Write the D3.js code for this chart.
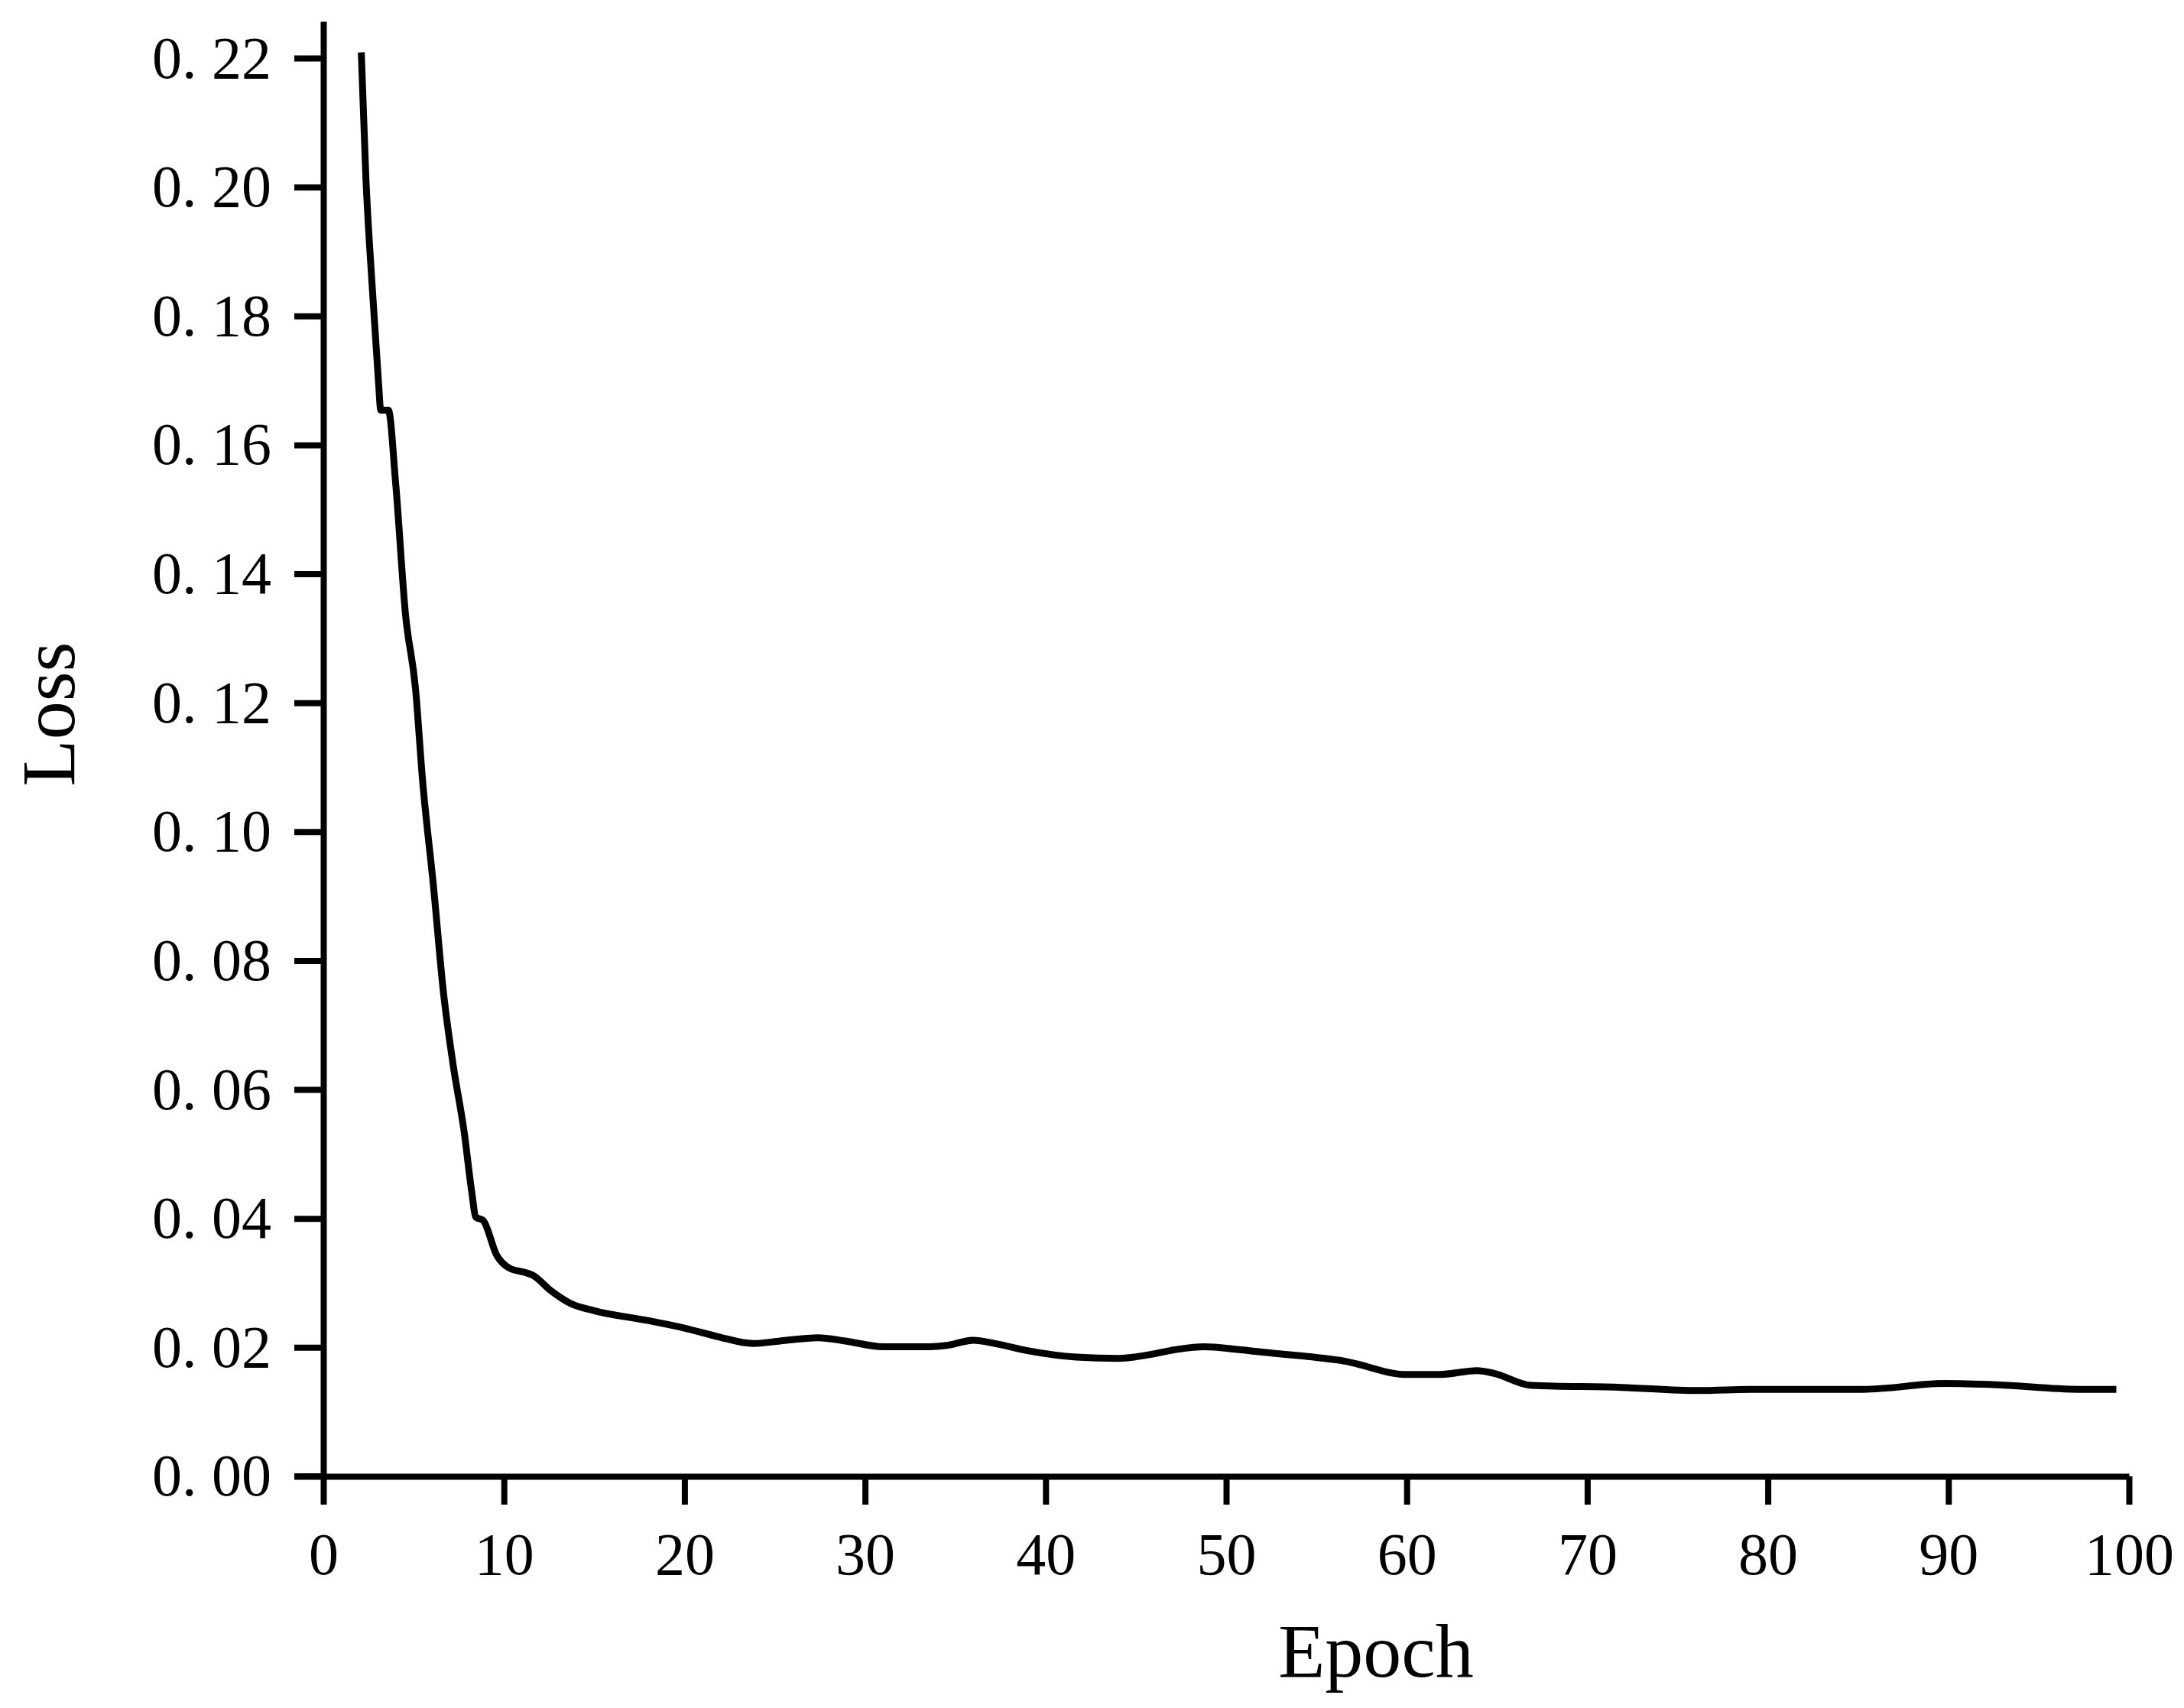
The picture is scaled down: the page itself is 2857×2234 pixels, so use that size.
<!DOCTYPE html>
<html>
<head>
<meta charset="utf-8">
<script src="https://cdn.jsdelivr.net/npm/d3@7"></script>
<style>
  body { margin: 0; background: #fff; }
  text { font-family: "Liberation Serif", "Times New Roman", serif; fill: #000; }
</style>
</head>
<body>
<svg id="chart"></svg>
<script>
// Data
var epochs = [2.1, 2.35, 2.7, 3.05, 3.18, 3.6, 4.0, 4.55, 5.1, 5.5, 6.1, 6.65, 7.2, 7.8, 8.2, 8.45, 8.85,
  9.6, 10.3, 11.2, 11.6, 12.6, 13.7, 15.0, 17.9, 20.0, 21.8, 23.8, 25.3, 27.4, 28.9, 31.0, 33.6, 34.5,
  36.0, 37.2, 39.0, 41.7, 44.0, 45.8, 47.3, 48.8, 50.6, 52.6, 54.1, 56.5, 60.0, 61.8, 63.9, 64.8, 66.9,
  71.9, 76.1, 79.3, 85.3, 89.8, 92.7, 97.2, 99.3];
var loss = [0.2209, 0.2018, 0.1848, 0.1699, 0.1654, 0.1654, 0.1542, 0.1337, 0.1223, 0.1078, 0.0915, 0.0751,
  0.0636, 0.0534, 0.0445, 0.0402, 0.0397, 0.0343, 0.0323, 0.0316, 0.0312, 0.0288, 0.0268, 0.0257, 0.0242,
  0.0230, 0.0217, 0.0206, 0.0210, 0.0215, 0.0210, 0.0201, 0.0201, 0.0203, 0.0211, 0.0206, 0.0195, 0.0185,
  0.0183, 0.0189, 0.0197, 0.0201, 0.0197, 0.0191, 0.0187, 0.0179, 0.0158, 0.0158, 0.0164, 0.0160, 0.0141,
  0.0138, 0.0133, 0.0135, 0.0135, 0.0144, 0.0142, 0.0135, 0.0135];
var xTicks = [0, 10, 20, 30, 40, 50, 60, 70, 80, 90, 100];
var yTicks = [0, 0.02, 0.04, 0.06, 0.08, 0.10, 0.12, 0.14, 0.16, 0.18, 0.20, 0.22];
var xTitle = "Epoch";
var yTitle = "Loss";

// SVG size params
var width = 2857;
var height = 2234;
var margin = {top: 28, right: 72, bottom: 303, left: 423};

var svg = d3.select("#chart")
    .attr("width", width)
    .attr("height", height);

svg.append("rect")
    .attr("width", width)
    .attr("height", height)
    .attr("fill", "#fff");

var innerW = width - margin.left - margin.right;
var innerH = height - margin.top - margin.bottom;

var g = svg.append("g")
    .attr("transform", "translate(" + margin.left + "," + margin.top + ")");

// Scales
var x = d3.scaleLinear().domain([0, 100]).range([0, innerW]);
var y = d3.scaleLinear().domain([0, 0.2257]).range([innerH, 0]);

// Axes
var fmt = d3.format(".2f");
var yAxis = d3.axisLeft(y)
    .tickValues(yTicks)
    .tickSize(38)
    .tickSizeOuter(0)
    .tickPadding(30)
    .tickFormat(function(d) { return fmt(d).replace(".", ". "); });

var xAxis = d3.axisBottom(x)
    .tickValues(xTicks)
    .tickSize(37)
    .tickSizeOuter(0)
    .tickPadding(36);

var gy = g.append("g").call(yAxis);
var gx = g.append("g")
    .attr("transform", "translate(0," + innerH + ")")
    .call(xAxis);

[gx, gy].forEach(function(a) {
  a.selectAll("path, line").attr("stroke", "#000").attr("stroke-width", 8);
  a.selectAll("text")
    .attr("font-size", 78)
    .attr("font-family", "Liberation Serif, Times New Roman, serif")
    .attr("fill", "#000");
});

// x axis line extends left under the y tick
gx.append("line")
    .attr("x1", -38)
    .attr("x2", 0)
    .attr("stroke", "#000")
    .attr("stroke-width", 8);

// Loss line
var line = d3.line()
    .x(function(d, i) { return x(epochs[i]); })
    .y(function(d) { return y(d); })
    .curve(d3.curveMonotoneX);

g.append("path")
    .datum(loss)
    .attr("fill", "none")
    .attr("stroke", "#000")
    .attr("stroke-width", 9)
    .attr("stroke-linejoin", "round")
    .attr("d", line);

// Axis titles
svg.append("text")
    .attr("x", 1800)
    .attr("y", 2193)
    .attr("text-anchor", "middle")
    .attr("font-size", 100)
    .text(xTitle);

svg.append("text")
    .attr("transform", "translate(97," + 934 + ") rotate(-90)")
    .attr("text-anchor", "middle")
    .attr("font-size", 100)
    .text(yTitle);
</script>
</body>
</html>
